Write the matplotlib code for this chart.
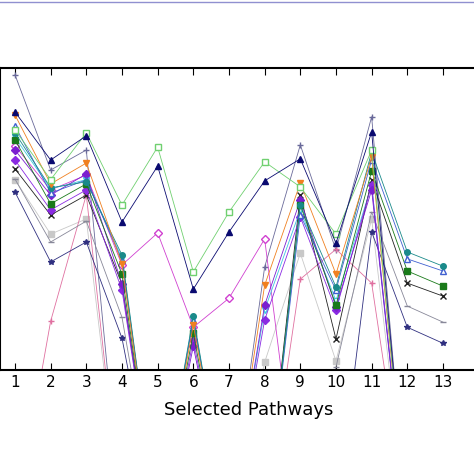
import matplotlib
matplotlib.use("Agg")
import matplotlib.pyplot as plt
import numpy as np

pathways = np.arange(1, 14)
OFF = -0.5  # values that fall below the visible axis

navy_tri = [0.854, 0.695, 0.775, 0.49, 0.675, 0.268, 0.457, 0.626, 0.699, 0.42, 0.788, OFF, OFF]
green_sq_open = [0.795, 0.63, 0.785, 0.546, 0.738, 0.325, 0.523, 0.689, 0.606, 0.45, 0.728, OFF, OFF]
dark_plus = [0.977, 0.662, 0.728, OFF, OFF, OFF, OFF, 0.341, 0.745, 0.397, 0.838, OFF, OFF]
teal_circle = [0.785, 0.603, 0.623, 0.381, OFF, 0.179, OFF, OFF, 0.546, 0.275, 0.722, 0.391, 0.344]
blue_tri_open = [0.808, 0.586, 0.629, 0.364, OFF, 0.166, OFF, OFF, 0.513, 0.265, 0.695, 0.368, 0.328]
green_sq = [0.762, 0.55, 0.616, 0.318, OFF, 0.123, OFF, OFF, 0.546, 0.215, 0.659, 0.328, 0.278]
black_x = [0.666, 0.513, 0.579, 0.285, OFF, OFF, OFF, OFF, 0.58, 0.103, 0.629, 0.288, 0.245]
navy_star = [0.589, 0.358, 0.424, 0.106, OFF, OFF, OFF, OFF, OFF, OFF, 0.457, 0.142, 0.089]
gray_dash = [0.632, 0.424, 0.493, 0.175, OFF, OFF, OFF, OFF, OFF, 0.01, 0.523, 0.212, 0.159]
orange_tri = [0.844, 0.616, 0.685, 0.351, OFF, 0.149, OFF, 0.281, 0.619, 0.318, 0.705, OFF, OFF]
purple_dia = [0.728, 0.579, 0.649, 0.285, OFF, 0.079, OFF, 0.215, 0.563, 0.209, 0.596, OFF, OFF]
violet_dia = [0.695, 0.53, 0.596, 0.265, OFF, 0.1, OFF, 0.166, 0.507, 0.199, 0.613, OFF, OFF]
magenta_dia = [0.742, 0.596, 0.645, 0.348, 0.454, 0.142, 0.238, 0.434, OFF, OFF, OFF, OFF, OFF]
pink_plus = [OFF, 0.162, 0.58, OFF, OFF, OFF, OFF, OFF, 0.301, 0.4, 0.288, OFF, OFF]
lgray_sq = [0.63, 0.45, 0.5, OFF, OFF, OFF, OFF, 0.026, 0.387, 0.03, 0.5, OFF, OFF]
cyan_tri = [0.77, 0.6, 0.63, 0.37, OFF, 0.17, OFF, 0.199, 0.53, 0.23, 0.613, OFF, OFF]

series = [
    (dark_plus, "#6a6a9a", "+", "none"),
    (lgray_sq, "#c8c8c8", "s", "full"),
    (pink_plus, "#e070a0", "+", "none"),
    (magenta_dia, "#d040d0", "D", "open"),
    (cyan_tri, "#40c8e0", "v", "open"),
    (navy_star, "#303080", "*", "full"),
    (gray_dash, "#888899", "_", "none"),
    (black_x, "#222222", "x", "none"),
    (violet_dia, "#8a2be2", "D", "full"),
    (purple_dia, "#7b1fd0", "D", "full"),
    (green_sq, "#1a7a1a", "s", "full"),
    (blue_tri_open, "#4060d0", "^", "open"),
    (teal_circle, "#1a8a8a", "o", "full"),
    (orange_tri, "#f08020", "v", "full"),
    (green_sq_open, "#70d070", "s", "open"),
    (navy_tri, "#0a0a70", "^", "full"),
]

fig = plt.figure(figsize=(4.74, 4.74), dpi=100)
ax = fig.add_axes([0.0, 0.219, 1.05, 0.638])
for vals, col, mk, fill in series:
    kw = dict(color=col, lw=0.6, marker=mk, ms=4)
    if fill == "open":
        kw.update(mfc="white", mec=col)
    ax.plot(pathways, vals, **kw)

ax.set_xlim(0.58, 13.87 * 1.0 + (13.87 - 0.58) * 0.05)
ax.set_ylim(0, 1)
ax.set_xticks(pathways)
ax.set_yticks([])
ax.tick_params(axis="x", direction="in", top=True, length=5, labelsize=11)
for s in ax.spines.values():
    s.set_linewidth(1.5)
ax.set_xlabel("Selected Pathways", fontsize=13, labelpad=8)
fig.add_artist(plt.Line2D([0, 1], [0.996, 0.996], color="#9090d0", lw=1))
fig.savefig("out.png", dpi=100)
